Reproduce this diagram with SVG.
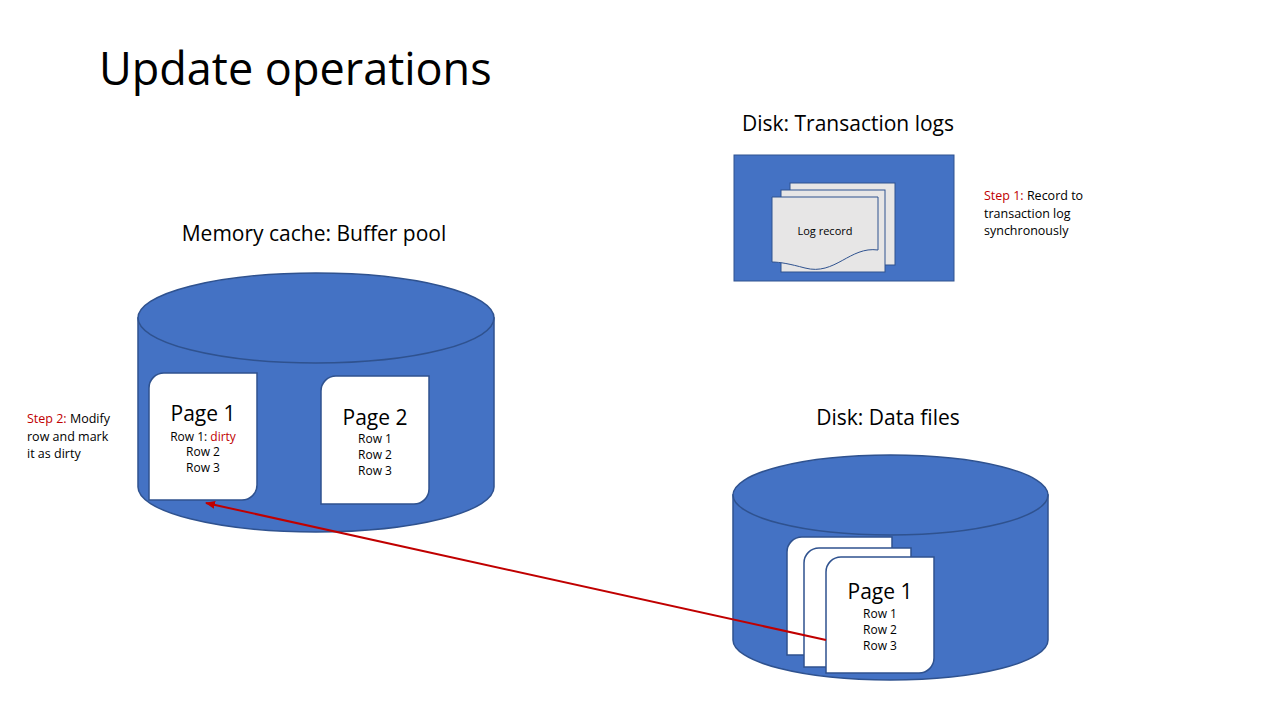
<svg xmlns="http://www.w3.org/2000/svg" width="1280" height="720" viewBox="0 0 1280 720">
<style>
text{font-family:"Open Sans","Liberation Sans",sans-serif;fill:#000}
.cyl{fill:#4472c4;stroke:#2f528f;stroke-width:1.5}
.pg{fill:#fff;stroke:#2f528f;stroke-width:1.5}
.lg{fill:#e7e6e6;stroke:#2f528f;stroke-width:1}
.red{fill:#c00000}
.ttl{font-size:21px}
.pt{font-size:21px}
.rw{font-size:12px}
.nt{font-size:12.5px}
</style>
<defs><marker id="ah" markerWidth="10" markerHeight="8" refX="9" refY="4" orient="auto" markerUnits="userSpaceOnUse"><path d="M0,0 L10,4 L0,8 z" fill="#c00000"/></marker></defs>
<rect width="1280" height="720" fill="#fff"/>
<text x="99" y="85" style="font-size:45px">Update operations</text>
<g id="logs">
<text x="848" y="131" class="ttl" text-anchor="middle">Disk: Transaction logs</text>
<rect x="734" y="155" width="220" height="126" fill="#4472c4" stroke="#2f528f"/>
<rect x="790" y="183" width="105" height="82" class="lg"/>
<rect x="781" y="190" width="104" height="82" class="lg"/>
<path d="M772,197 H878 V250 C850,246 835,276 805,268 C790,264 780,262 772,262 Z" class="lg"/>
<text x="825" y="235" text-anchor="middle" style="font-size:11px">Log record</text>
<text x="984" y="200" class="nt"><tspan class="red">Step 1:</tspan> Record to</text>
<text x="984" y="218" class="nt">transaction log</text>
<text x="984" y="235" class="nt">synchronously</text>
</g>
<g id="buffer">
<text x="314" y="241" class="ttl" text-anchor="middle">Memory cache: Buffer pool</text>
<path d="M138,318 V487 A178,45 0 0 0 494,487 V318 Z" class="cyl"/>
<ellipse cx="316" cy="318" rx="178" ry="45" class="cyl"/>
<path d="M164,373 H257 V485 A15,15 0 0 1 242,500 H149 V388 A15,15 0 0 1 164,373 Z" class="pg"/>
<text x="203" y="421" class="pt" text-anchor="middle">Page 1</text>
<text x="203" y="441" class="rw" text-anchor="middle">Row 1: <tspan class="red">dirty</tspan></text>
<text x="203" y="456" class="rw" text-anchor="middle">Row 2</text>
<text x="203" y="472" class="rw" text-anchor="middle">Row 3</text>
<path d="M336,376 H429 V489 A15,15 0 0 1 414,504 H321 V391 A15,15 0 0 1 336,376 Z" class="pg"/>
<text x="375" y="425" class="pt" text-anchor="middle">Page 2</text>
<text x="375" y="443" class="rw" text-anchor="middle">Row 1</text>
<text x="375" y="459" class="rw" text-anchor="middle">Row 2</text>
<text x="375" y="475" class="rw" text-anchor="middle">Row 3</text>
<text x="27" y="423" class="nt"><tspan class="red">Step 2:</tspan> Modify</text>
<text x="27" y="441" class="nt">row and mark</text>
<text x="27" y="458" class="nt">it as dirty</text>
</g>
<g id="data">
<text x="888" y="425" class="ttl" text-anchor="middle">Disk: Data files</text>
<path d="M733,495 V640 A157.5,40 0 0 0 1048,640 V495 Z" class="cyl"/>
<ellipse cx="890.5" cy="495" rx="157.5" ry="40" class="cyl"/>
<path d="M802,537 H892 V640 A15,15 0 0 1 877,655 H787 V552 A15,15 0 0 1 802,537 Z" class="pg"/>
<path d="M819,548 H911 V652 A15,15 0 0 1 896,667 H804 V563 A15,15 0 0 1 819,548 Z" class="pg"/>
<path d="M841,557 H934 V658 A15,15 0 0 1 919,673 H826 V572 A15,15 0 0 1 841,557 Z" class="pg"/>
<text x="880" y="599" class="pt" text-anchor="middle">Page 1</text>
<text x="880" y="618" class="rw" text-anchor="middle">Row 1</text>
<text x="880" y="634" class="rw" text-anchor="middle">Row 2</text>
<text x="880" y="650" class="rw" text-anchor="middle">Row 3</text>
</g>
<g id="connectors">
<line x1="826" y1="640" x2="206" y2="503" stroke="#c00000" stroke-width="2" marker-end="url(#ah)"/>
</g>
</svg>
